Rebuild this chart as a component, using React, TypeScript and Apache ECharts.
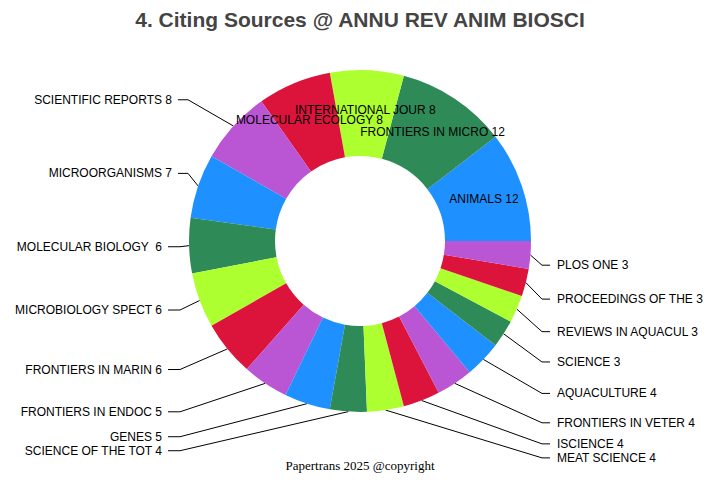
import React, { useEffect, useRef } from "react";
import * as echarts from "echarts";

// journals in descending order of citing papers
const journals = [
  "ANIMALS",
  "FRONTIERS IN MICRO",
  "INTERNATIONAL JOUR",
  "MOLECULAR ECOLOGY",
  "SCIENTIFIC REPORTS",
  "MICROORGANISMS",
  "MOLECULAR BIOLOGY ",
  "MICROBIOLOGY SPECT",
  "FRONTIERS IN MARIN",
  "FRONTIERS IN ENDOC",
  "GENES",
  "SCIENCE OF THE TOT",
  "MEAT SCIENCE",
  "ISCIENCE",
  "FRONTIERS IN VETER",
  "AQUACULTURE",
  "SCIENCE",
  "REVIEWS IN AQUACUL",
  "PROCEEDINGS OF THE",
  "PLOS ONE",
];
const counts = [12, 12, 8, 8, 8, 7, 6, 6, 6, 5, 5, 4, 4, 4, 4, 4, 3, 3, 3, 3];

// slices whose label sits inside the ring
const insideLabels = ["ANIMALS", "FRONTIERS IN MICRO", "INTERNATIONAL JOUR", "MOLECULAR ECOLOGY"];

const palette = ["#1E90FF", "#2E8B57", "#ADFF2F", "#DC143C", "#BA55D3"];

const CX = 360;
const CY = 241;

const App = () => {
  const chartRef = useRef<HTMLDivElement>(null);

  useEffect(() => {
    if (!chartRef.current) return;
    document.body.style.margin = "0";

    const chart = echarts.init(chartRef.current, null, { renderer: "svg" });

    const option: echarts.EChartsCoreOption = {
      animation: false,
      backgroundColor: "#fff",
      title: {
        text: "4. Citing Sources @ ANNU REV ANIM BIOSCI",
        left: "center",
        top: 4,
        textStyle: {
          color: "#444",
          fontSize: 21,
          fontWeight: "bold",
          fontFamily: "Liberation Sans",
        },
      },
      graphic: [
        {
          type: "text",
          x: 360,
          y: 465,
          style: {
            text: "Papertrans 2025 @copyright",
            font: '13px "Liberation Serif"',
            fill: "#000",
            align: "center",
            verticalAlign: "middle",
          },
        },
      ],
      series: [
        {
          type: "pie",
          clockwise: false,
          startAngle: 0,
          center: [CX, CY],
          radius: [85, 171],
          avoidLabelOverlap: true,
          label: {
            show: true,
            position: "outside",
            formatter: "{b} {c}",
            color: "#000",
            fontSize: 12,
            fontFamily: "Liberation Sans",
            width: 200,
            overflow: "none",
          },
          labelLine: {
            show: true,
            length: 39,
            length2: 10,
            lineStyle: { color: "#000", width: 1 },
          },
          labelLayout: (params: any) => {
            const name = journals[params.dataIndex];
            if (insideLabels.includes(name) || !params.labelLinePoints) return {};
            const p0 = params.labelLinePoints[0];
            const isLeft = p0[0] < CX;
            let yc = params.labelRect.y + params.labelRect.height / 2;
            if (isLeft) {
              if (yc > CY + 20) yc -= 4;
            } else {
              yc += 7;
            }
            const isUpper = yc < CY;
            let bendX, endX, textX;
            if (isLeft) {
              bendX = isUpper ? CX - 172 : CX - 180;
              endX = bendX - (isUpper ? 10 : 12);
              textX = endX - 6;
            } else {
              bendX = CX + 182;
              endX = bendX + 8;
              textX = endX + 7;
            }
            return {
              x: textX,
              y: yc,
              align: isLeft ? "right" : "left",
              verticalAlign: "middle",
              labelLinePoints: [
                [p0[0], p0[1]],
                [bendX, yc],
                [endX, yc],
              ],
            };
          },
          data: journals.map((name, i) => {
            const inside = insideLabels.includes(name);
            return {
              name,
              value: counts[i],
              itemStyle: { color: palette[i % palette.length] },
              label: inside ? { position: "inside", width: null } : undefined,
              labelLine: inside ? { show: false } : undefined,
            };
          }),
        },
      ],
    };

    chart.setOption(option);

    return () => {
      chart.dispose();
    };
  }, []);

  return <div ref={chartRef} style={{ width: 720, height: 480 }} />;
};

export default App;
